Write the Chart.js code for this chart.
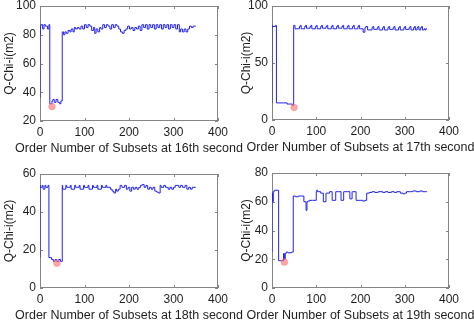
<!DOCTYPE html>
<html>
<head>
<meta charset="utf-8">
<script src="https://cdn.jsdelivr.net/npm/chart.js@4.4.1/dist/chart.umd.min.js"></script>
<style>
body{margin:0;background:#fff;}
#wrap{position:relative;width:474px;height:323px;overflow:hidden;}
#wrap canvas{position:absolute;left:0;top:0;}
</style>
</head>
<body>
<div id="wrap">
<canvas id="c1" width="474" height="323"></canvas>
<canvas id="c2" width="474" height="323"></canvas>
<canvas id="c3" width="474" height="323"></canvas>
<canvas id="c4" width="474" height="323"></canvas>
</div>
<script>
// 16th second
const xs16 = [0,1,2,6,9,12,17,20,22,27,29,32,36,40,44,47,50,53,56,59,63,67,70,74,77,80,84,88,92,96,100,104,108,112,116,120,123,126,130,134,137,141,145,149,153,157,161,165,169,173,177,181,185,189,193,197,201,205,209,213,217,221,225,229,233,237,241,245,249,253,257,261,265,269,273,277,281,285,289,293,297,301,305,309,313,316,320,324,328,332,336,340,344,348,350];
const ys16 = [36,80,86,87,84,87,86,84,87,32,34,35,33,35,33,32,34,82,80,82,81,83,82,84,82,85,84,85,84,86,84,87,85,87,86,83,85,81,84,82,85,84,87,85,87,86,84,87,85,87,86,84,82,81,83,84,86,84,85,83,85,84,86,83,87,85,87,84,87,85,87,84,87,85,87,84,87,85,87,84,87,85,87,84,87,82,84,82,84,82,84,86,85,86,86];

// 17th second
const xs17 = [0,1,8,10,26,34,40,46,49,52,
  62,64,66,74,76,78,86,88,90,98,100,102,110,112,114,122,124,126,134,136,138,146,148,150,158,160,162,170,172,174,182,184,186,194,196,198,
  206,210,212,216,
  226,228,230,238,240,242,250,252,254,262,264,266,274,276,278,286,288,290,298,300,302,310,312,314,320,322,324,328,330,332,336,338,340,
  344,346,348,350];
const ys17 = [15,83,82,83,15,15,14,14,13,83,
  80,82,83,80,82,83,80.5,82,83,80,82,83,80,82,83,80.5,82,83,80,82,83,80,82,83,80.5,82,83,80,82,83,80,82,83,80,82,83,
  80,77,81,82,
  79,81,82,79.5,81,82,79,81,82,79,81,82,79.5,81,82,79,81,82,79,81,82,79.5,81,82,79,81,82,79,81,82,79,81,82,
  79,80,79,80];

// 18th second
const xs18 = [0,1,5,7,11,13,18,20,26,30,34,38,42,46,50,51,58,60,68,70,78,80,88,90,98,100,108,110,118,120,128,130,138,140,148,150,158,162,166,170,172,176,180,184,190,194,198,202,206,210,214,218,222,226,230,234,238,242,246,250,254,258,262,266,270,272,278,282,288,292,296,300,304,308,312,316,320,326,330,334,338,342,346,350];
const ys18 = [16,54,53,54,52,54,53,54,16,15,14,15,14,15,14,54,52,54,53,54,52,54,53,54,52,54,53,54,52,54,53,54,52,54,53,54,53,52,51,50,52,51,52,54,53,54,52,53,51,53,52,53,52,53,54,54.5,53,54,52,53,52,53,51,50.5,50,54,53,54,53,52,53,52,53,54,54,53,54,53,54,52,53,52,53,53];

// 19th second
const xs19 = [0,1,3,5,15,26,28,30,32,36,44,48,53,60,66,72,77,79,81,85,92,100,101,103,110,116,122,123,130,136,144,145,150,156,162,163,170,176,181,182,190,199,205,210,214,215,220,226,232,240,250,256,262,270,276,282,290,296,300,304,310,318,326,334,340,346,350];
const ys19 = [25,66,60,67,68,19,24,20,24,25,24.5,25,64,63.5,64,64,60,54,60,60.5,61,61,67,68,67,66,60,66,66,67,61,67,67,67,61,67,67,67,62,67,67,61,61,60.5,61,66,66,66.5,67,66.5,67,66.5,67,66.5,67,66.5,67,66,65.5,66,67,67,67.5,67,67.5,67,67];

// minimum points (red markers)
const minX = [27, 50, 38, 28];
const minY = [30, 11, 13, 18];

const xTitles = ['Order Number of Subsets at 16th second','Order Number of Subsets at 17th second','Order Number of Subsets at 18th second','Order Number of Subsets at 19th second'];
const yTitle = 'Q-Chi-i(m2)';
const yMin = [20, 0, 0, 0];
const yMax = [100, 100, 60, 80];
const yStep = [20, 50, 20, 20];

// plot area of each panel in page pixels
const areas = [
  {l:40, r:218, t:6, b:121},
  {l:272, r:449, t:6, b:120},
  {l:40, r:218, t:174, b:288},
  {l:272, r:449, t:173, b:288}
];

const txtColor = '#1f1f1f';
const fontFam = '"Liberation Sans", Arial, sans-serif';

const boxPlugin = {
  id: 'matBox',
  beforeDatasetsDraw(chart){
    const {ctx, chartArea:a, scales} = chart;
    ctx.save();
    ctx.strokeStyle = '#858585';
    ctx.lineWidth = 1;
    ctx.strokeRect(Math.round(a.left)+0.5, Math.round(a.top)+0.5, Math.round(a.right-a.left)-1, Math.round(a.bottom-a.top)-1);
    ctx.beginPath();
    scales.x.ticks.forEach(t => {
      const px = Math.round(scales.x.getPixelForValue(t.value))+0.5;
      ctx.moveTo(px, a.bottom); ctx.lineTo(px, a.bottom-3);
      ctx.moveTo(px, a.top); ctx.lineTo(px, a.top+3);
    });
    scales.y.ticks.forEach(t => {
      const py = Math.round(scales.y.getPixelForValue(t.value))+0.5;
      ctx.moveTo(a.left, py); ctx.lineTo(a.left+3, py);
      ctx.moveTo(a.right, py); ctx.lineTo(a.right-3, py);
    });
    ctx.stroke();
    ctx.restore();
  },
  afterDraw(chart, args, opts){
    const {ctx, chartArea:a} = chart;
    ctx.save();
    ctx.fillStyle = txtColor;
    ctx.font = '12.5px ' + fontFam;
    ctx.textAlign = 'center';
    ctx.textBaseline = 'middle';
    ctx.fillText(opts.text, (a.left+a.right)/2, a.bottom+28);
    ctx.restore();
  }
};

function toPoints(xs, ys){
  return xs.map((x,i) => ({x:x, y:ys[i]}));
}

function getConfig(i, xs, ys){
  const ar = areas[i];
  const yw = ar.l - (i % 2 === 0 ? 0 : 237);
  return {
    type:'line',
    data:{
      datasets:[
        {
          data:[{x:minX[i], y:minY[i]}],
          showLine:false,
          pointRadius:3.3,
          pointBackgroundColor:'rgba(255,95,95,0.55)',
          pointBorderColor:'rgba(255,130,130,0.5)',
          pointBorderWidth:1,
          order:0
        },
        {
          data:toPoints(xs, ys),
          stepped:'after',
          borderColor:'rgb(35,35,235)',
          borderWidth:1,
          pointRadius:0,
          fill:false,
          order:1
        }
      ]
    },
    options:{
      responsive:false,
      animation:false,
      events:[],
      layout:{padding:{left:ar.l-yw, right:474-ar.r, top:ar.t, bottom:323-ar.b-34}},
      plugins:{legend:{display:false}, tooltip:{enabled:false}, matBox:{text:xTitles[i]}},
      scales:{
        x:{
          type:'linear', min:0, max:400,
          grid:{display:false, drawTicks:false}, border:{display:false},
          ticks:{stepSize:100, padding:4, color:txtColor, font:{family:fontFam, size:12}},
          afterFit(s){ s.height = 34; s.paddingLeft = 0; s.paddingRight = 0; }
        },
        y:{
          min:yMin[i], max:yMax[i],
          grid:{display:false, drawTicks:false}, border:{display:false},
          ticks:{stepSize:yStep[i], padding:4, color:txtColor, font:{family:fontFam, size:12}},
          title:{display:true, text:yTitle, color:txtColor, padding:{top:2, bottom:0}, font:{family:fontFam, size:12}},
          afterFit(s){ s.width = yw; s.paddingTop = 0; s.paddingBottom = 0; }
        }
      }
    },
    plugins:[boxPlugin]
  };
}

const allX = [xs16, xs17, xs18, xs19];
const allY = [ys16, ys17, ys18, ys19];
for (let i = 0; i < 4; i++){
  const ctx = document.getElementById('c'+(i+1)).getContext('2d');
  new Chart(ctx, getConfig(i, allX[i], allY[i]));
}
</script>
</body>
</html>
